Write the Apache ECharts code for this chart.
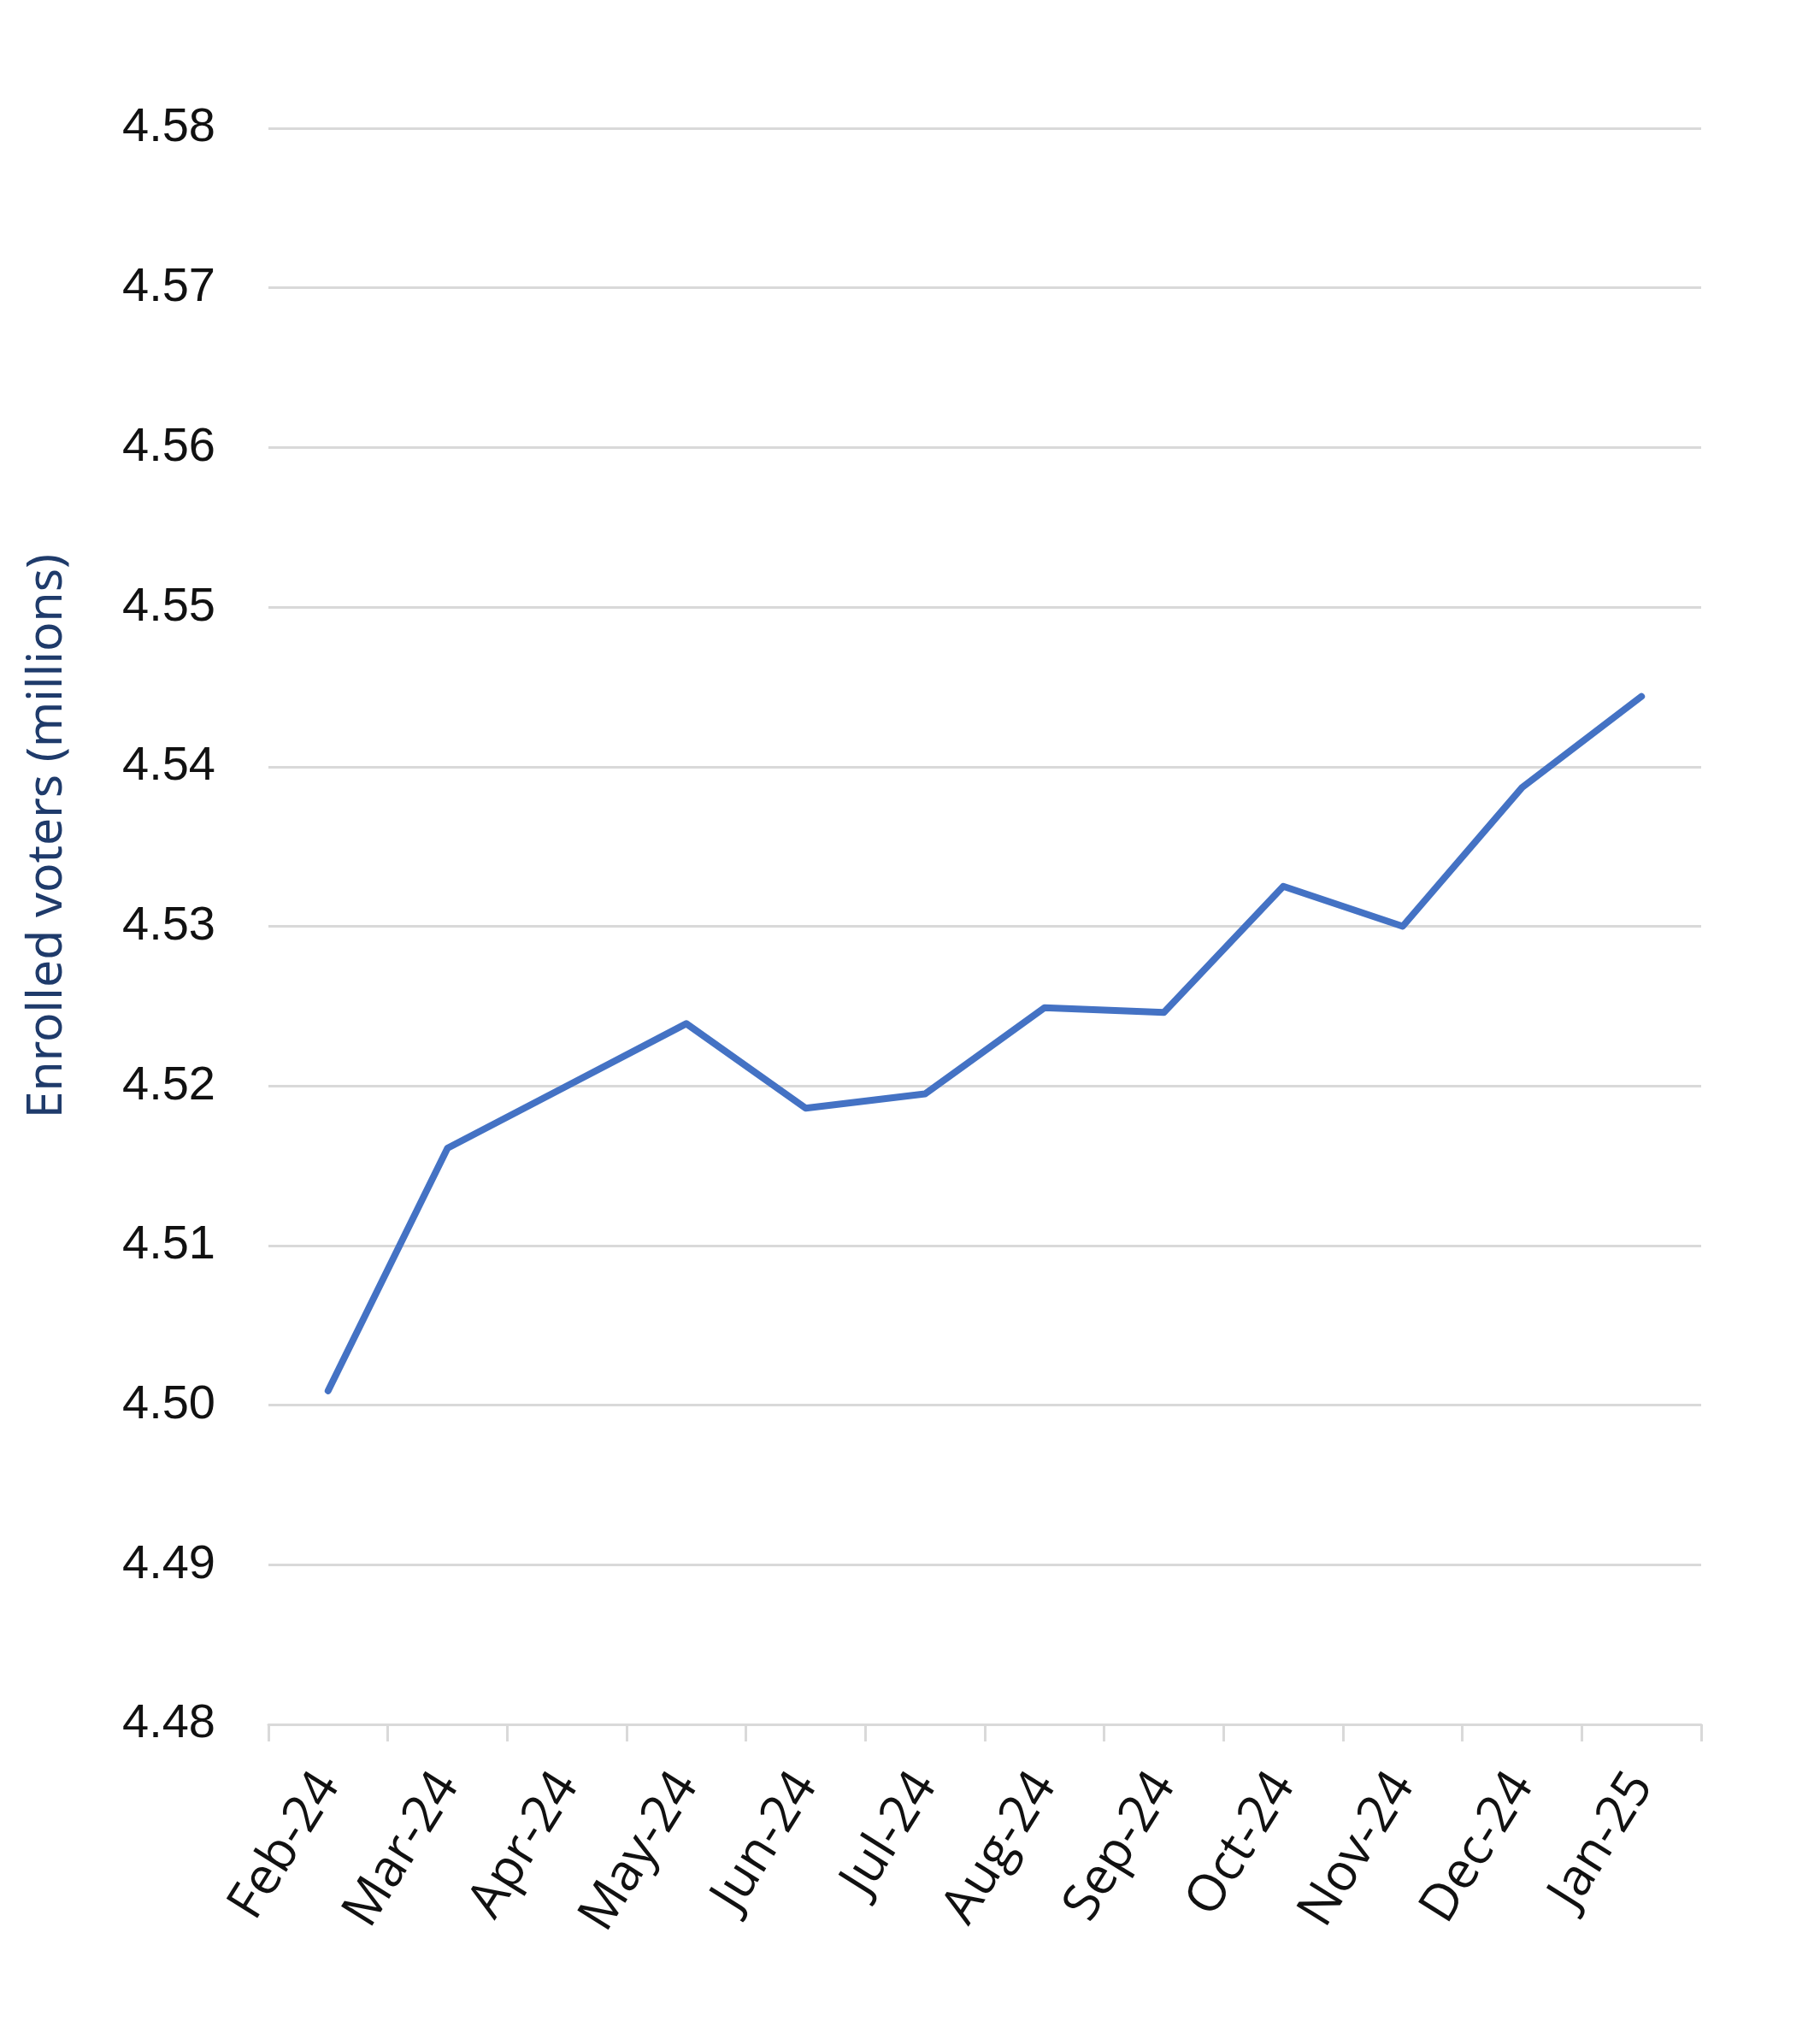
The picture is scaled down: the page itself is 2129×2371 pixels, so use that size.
<!DOCTYPE html>
<html>
<head>
<meta charset="utf-8">
<script src="https://cdn.jsdelivr.net/npm/echarts@6/dist/echarts.min.js"></script>
<style>html,body{margin:0;padding:0;background:#fff;}#c{width:2129px;height:2371px;}</style>
</head>
<body>
<div id="c"></div>
<script>
const categories = ['Feb-24','Mar-24','Apr-24','May-24','Jun-24','Jul-24','Aug-24','Sep-24','Oct-24','Nov-24','Dec-24','Jan-25'];
const enrolledVoters = [4.5009, 4.5161, 4.5200, 4.5239, 4.5186, 4.5195, 4.5249, 4.5246, 4.5325, 4.5300, 4.5387, 4.5444];
const yTicks = { min: 4.48, max: 4.58, interval: 0.01 };
const yTitle = 'Enrolled voters (millions)';

const chart = echarts.init(document.getElementById('c'), null, { renderer: 'canvas' });
chart.setOption({
  backgroundColor: '#ffffff',
  animation: false,
  grid: { left: 314, right: 139, top: 150, bottom: 354, containLabel: false },
  graphic: [{
    type: 'text',
    x: 56, y: 978,
    rotation: Math.PI / 2,
    style: {
      text: yTitle,
      fill: '#1F3B6B',
      font: '57px "Noto Sans"',
      textAlign: 'center',
      textVerticalAlign: 'middle'
    }
  }],
  xAxis: {
    type: 'category',
    data: categories,
    boundaryGap: true,
    axisLine: { show: true, lineStyle: { color: '#D9D9D9', width: 3 } },
    axisTick: { show: true, alignWithLabel: false, length: 20, lineStyle: { color: '#D9D9D9', width: 3 } },
    axisLabel: {
      interval: 0,
      rotate: 58,
      margin: 62,
      color: '#111111',
      fontFamily: 'Open Sans',
      fontSize: 60
    },
    splitLine: { show: false }
  },
  yAxis: {
    type: 'value',
    min: yTicks.min,
    max: yTicks.max,
    interval: yTicks.interval,
    axisLine: { show: false },
    axisTick: { show: false },
    axisLabel: {
      margin: 62,
      color: '#111111',
      fontFamily: 'Liberation Sans',
      fontSize: 56,
      formatter: v => v.toFixed(2)
    },
    splitLine: { show: true, lineStyle: { color: '#D9D9D9', width: 3 } }
  },
  series: [{
    type: 'line',
    data: enrolledVoters,
    showSymbol: false,
    symbol: 'none',
    lineStyle: { color: '#4472C4', width: 8, cap: 'round', join: 'round' },
    itemStyle: { color: '#4472C4' },
    z: 5
  }]
});
</script>
</body>
</html>
